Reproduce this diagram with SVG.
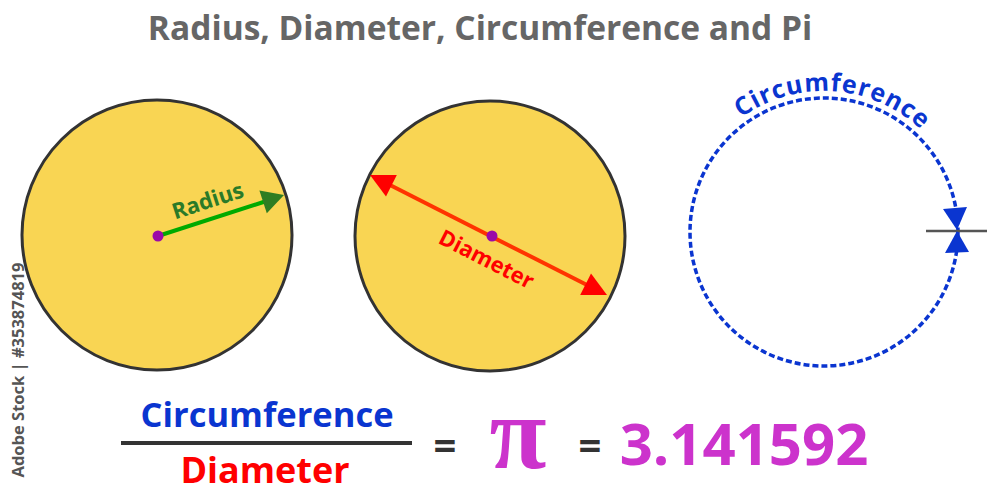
<svg xmlns="http://www.w3.org/2000/svg" width="1000" height="500" viewBox="0 0 1000 500">
<defs>
<style>
.f{font-family:"Open Sans","Noto Sans","Liberation Sans",sans-serif;font-weight:bold}
.disk{fill:#f9d553;stroke:#333;stroke-width:3}
.dot{fill:#9b0aa8}
</style>
<path id="arc" d="M 683 232 A 141 141 0 0 1 965 232"/>
</defs>
<rect width="1000" height="500" fill="#fff"/>
<text class="f" x="480" y="40" font-size="33.5" fill="#666" text-anchor="middle">Radius, Diameter, Circumference and Pi</text>
<text class="f" transform="translate(24,370) rotate(-90)" font-size="16.5" font-weight="600" fill="#555" text-anchor="middle">Adobe Stock | #353874819</text>

<g id="radius-circle">
<circle class="disk" cx="157" cy="235" r="135"/>
</g>
<g id="diameter-circle">
<circle class="disk" cx="490" cy="236" r="135"/>
</g>
<g id="circumference-circle">
<circle cx="824" cy="232" r="134" fill="none" stroke="#0a35d0" stroke-width="3.5" stroke-dasharray="6 3"/>
<text class="f" font-size="25" fill="#0a35d0" letter-spacing="1"><textPath href="#arc" startOffset="231" text-anchor="middle">Circumference</textPath></text>
</g>

<g id="connectors">
<line x1="158" y1="236" x2="265" y2="201.5" stroke="#00aa00" stroke-width="4"/>
<polygon points="284,195 266.8,213.3 259.4,190.5" fill="#2e7d22"/>
<line x1="388" y1="184" x2="589" y2="286" stroke="#ff3300" stroke-width="4"/>
<polygon points="370,175 386,196.5 396.8,175.1" fill="#ff0000"/>
<polygon points="607,295 580.2,294.9 591,273.5" fill="#ff0000"/>
<line x1="926" y1="231" x2="987" y2="231" stroke="#555" stroke-width="2.5"/>
<polygon points="943,209 967,207 957,230" fill="#0a35d0"/>
<polygon points="957,231 945,253 969,252" fill="#0a35d0"/>
</g>

<circle class="dot" cx="158" cy="236" r="5.5"/>
<circle class="dot" cx="492" cy="236" r="5.5"/>
<text class="f" transform="translate(210,208) rotate(-18)" font-size="22" fill="#2a7a28" text-anchor="middle">Radius</text>
<text class="f" transform="translate(483,266) rotate(27)" font-size="22" fill="#ff0000" text-anchor="middle">Diameter</text>

<g id="formula">
<text class="f" x="267" y="427" font-size="34.5" fill="#0a35d0" text-anchor="middle">Circumference</text>
<line x1="121" y1="443" x2="412" y2="443" stroke="#333" stroke-width="4"/>
<text class="f" x="265" y="483" font-size="36" fill="#ff0000" text-anchor="middle">Diameter</text>
<text class="f" x="445" y="460" font-size="40" fill="#333" text-anchor="middle">=</text>
<text x="518" y="468" font-family="Liberation Serif,serif" font-weight="bold" font-size="104" fill="#cc33cc" text-anchor="middle">π</text>
<text class="f" x="590" y="460" font-size="40" fill="#333" text-anchor="middle">=</text>
<text class="f" x="744" y="465" font-size="58" fill="#cc33cc" text-anchor="middle">3.141592</text>
</g>
</svg>
